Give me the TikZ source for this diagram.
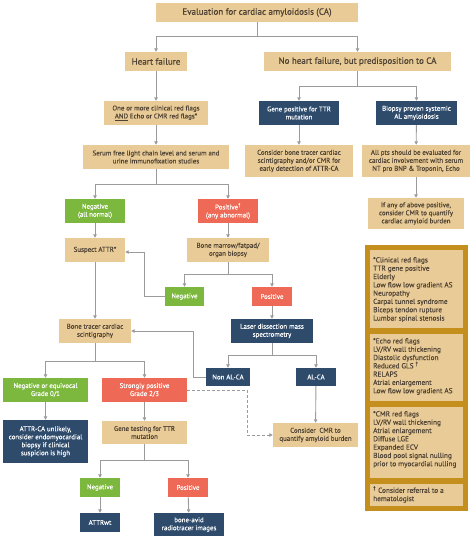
\documentclass[tikz,border=0pt]{standalone}
\usepackage{fontspec}
\setmainfont{PT Sans}[FakeBold=0.15]
\newfontfamily\headfont{PT Sans}[FakeBold=0.7]
\usetikzlibrary{arrows.meta}
\definecolor{tan}{HTML}{E8CB96}
\definecolor{tantext}{HTML}{4F4234}
\definecolor{navy}{HTML}{2E4B6C}
\definecolor{leaf}{HTML}{7CB83E}
\definecolor{coral}{HTML}{EE6A56}
\definecolor{gold}{HTML}{C48F1C}
\definecolor{wire}{HTML}{9B9B9B}
\tikzset{
  boxbase/.style={inner sep=1pt, align=center, font=\fontsize{6.9}{8}\selectfont},
  tanbox/.style={boxbase, fill=tan, text=tantext},
  bluebox/.style={boxbase, fill=navy, text=white},
  greenbox/.style={boxbase, fill=leaf, text=white},
  redbox/.style={boxbase, fill=coral, text=white},
  headbox/.style={tanbox, font=\headfont\fontsize{9}{10}\selectfont},
  sz/.style 2 args={minimum width=#1, minimum height=#2},
  arr/.style={draw=wire, line width=0.9pt, -{Triangle[width=3.4pt,length=3.4pt]}},
  wirel/.style={draw=wire, line width=0.9pt},
  paneltext/.style={anchor=north west, inner sep=0pt, align=left, text=tantext, font=\fontsize{7.3}{8.3}\selectfont}
}
\begin{document}
\begin{tikzpicture}[x=1pt,y=-1pt]
\useasboundingbox (0,0) rectangle (474,539);
% top
\node[headbox, sz={202}{19}] (title) at (257,12.5) {Evaluation for cardiac amyloidosis (CA)};
\node[headbox, sz={62}{19}] (hf) at (156,61.5) {Heart failure};
\node[headbox, sz={187}{19}] (nohf) at (357.5,61.5) {No heart failure, but predisposition to CA};
\node[tanbox, sz={104}{24}] (redflags) at (156,113) {One or more clinical red flags\\\underline{AND} Echo or CMR red flags*};
\node[bluebox, sz={80}{24}] (gene) at (299,113) {Gene positive for TTR\\mutation};
\node[bluebox, sz={81}{24}] (biopsy) at (416.5,113) {Biopsy proven systemic\\AL amyloidosis};
\node[tanbox, sz={146}{24}] (serum) at (156,157) {Serum free light chain level and serum and\\urine immunofixation studies};
\node[tanbox, sz={108}{32}] (bonetr1) at (299,161) {Consider bone tracer cardiac\\scintigraphy and/or CMR for\\early detection of ATTR-CA};
\node[tanbox, sz={108}{32}] (allpts) at (416,161) {All pts should be evaluated for\\cardiac involvement with serum\\NT pro BNP \& Troponin, Echo};
\node[tanbox, sz={96}{31}] (ifany) at (416,213.5) {If any of above positive,\\consider CMR to quantify\\cardiac amyloid burden};
% middle
\node[greenbox, sz={60}{24}] (neg1) at (95,211) {Negative\\(all normal)};
\node[redbox, sz={60}{24}] (pos1) at (228,211) {Positive\textsuperscript{†}\\(any abnormal)};
\node[tanbox, sz={60}{24}] (sattr) at (95,250) {Suspect ATTR*};
\node[tanbox, sz={82}{24}] (bmb) at (228,250) {Bone marrow/fatpad/\\organ biopsy};
\node[greenbox, sz={39}{19}] (neg2) at (184.5,296.5) {Negative};
\node[redbox, sz={40}{19}] (pos2) at (272,296.5) {Positive};
\node[bluebox, sz={82}{24}] (laser) at (272,331) {Laser dissection mass\\spectrometry};
\node[bluebox, sz={44}{18}] (nonal) at (228,377) {Non AL-CA};
\node[bluebox, sz={40}{18}] (alca) at (316,377) {AL-CA};
\node[tanbox, sz={72}{24}] (bonetr2) at (95,331) {Bone tracer cardiac\\scintigraphy};
\node[greenbox, sz={85}{24}] (negeq) at (45.5,390) {Negative or equivocal\\Grade 0/1};
\node[redbox, sz={85}{24}] (strong) at (144.5,390) {Strongly positive\\Grade 2/3};
\node[bluebox, sz={85}{43}] (attrca) at (45.5,441.5) {ATTR-CA unlikely,\\consider endomyocardial\\biopsy if clinical\\suspicion is high};
\node[tanbox, sz={85}{23}] (genetest) at (144.5,432.5) {Gene testing for TTR\\mutation};
\node[tanbox, sz={85}{24}] (cmr) at (315.5,435) {Consider\ \ CMR to\\quantify amyloid burden};
\node[greenbox, sz={40}{19}] (neg3) at (100,487.5) {Negative};
\node[redbox, sz={40}{19}] (pos3) at (188,487.5) {Positive};
\node[bluebox, sz={40}{19}] (attrwt) at (100,522.5) {ATTRwt};
\node[bluebox, sz={70}{23}] (boneavid) at (189,524.5) {bone-avid\\radiotracer images};
% junction coordinates
\coordinate (j1) at (257,36);
\coordinate (j2) at (357.5,86);
\coordinate (j3) at (156,184);
\coordinate (j4) at (228,274);
\coordinate (j5) at (272,355);
\coordinate (j6) at (95,361);
\coordinate (j7) at (144.5,460);
% connectors
\draw[wirel] (title) -- (j1);
\draw[arr] (j1) -| (hf);
\draw[arr] (j1) -| (nohf);
\draw[arr] (hf) -- (redflags);
\draw[arr] (redflags) -- (serum);
\draw[wirel] (nohf) -- (j2);
\draw[arr] (j2) -| (gene);
\draw[arr] (j2) -| (biopsy);
\draw[arr] (gene) -- (bonetr1);
\draw[arr] (biopsy) -- (allpts);
\draw[arr] (allpts) -- (ifany);
\draw[wirel] (serum) -- (j3);
\draw[arr] (j3) -| (neg1);
\draw[arr] (j3) -| (pos1);
\draw[arr] (neg1) -- (sattr);
\draw[arr] (pos1) -- (bmb);
\draw[wirel] (bmb) -- (j4);
\draw[arr] (j4) -| (neg2);
\draw[arr] (j4) -| (pos2);
\draw[arr] (neg2.west) -- ++(-20,0) |- ([yshift=-2pt]sattr.east);
\draw[arr] (pos2) -- (laser);
\draw[wirel] (laser) -- (j5);
\draw[arr] (j5) -| (nonal);
\draw[arr] (j5) -| (alca);
\draw[arr] (nonal.west) -- ++(-12,0) |- (bonetr2.east);
\draw[arr] (sattr) -- (bonetr2);
\draw[wirel] (bonetr2) -- (j6);
\draw[arr] (j6) -| (negeq);
\draw[arr] (j6) -| (strong);
\draw[arr] (negeq) -- (attrca);
\draw[arr] (strong) -- (genetest);
\draw[wirel] (genetest) -- (j7);
\draw[arr] (j7) -| (neg3);
\draw[arr] (j7) -| (pos3);
\draw[arr] (neg3) -- (attrwt);
\draw[arr] (pos3) -- (boneavid);
\draw[arr] (alca) -- (cmr);
\draw[arr, dash pattern=on 3pt off 2pt] (strong.east) -- ++(60,0) |- (cmr.west);
% legend panel
\fill[gold] (365,245) rectangle (468,511);
\fill[tan] (370,250) rectangle (463,328);
\fill[tan] (370,334) rectangle (463,401);
\fill[tan] (370,407) rectangle (463,478);
\fill[tan] (370,484) rectangle (463,506);
\node[paneltext] (p1) at (373,257) {*Clinical red flags\\TTR gene positive\\Elderly\\Low flow low gradient AS\\Neuropathy\\Carpal tunnel syndrome\\Biceps tendon rupture\\Lumbar spinal stenosis};
\node[paneltext] (p2) at (373,338) {*Echo red flags\\LV/RV wall thickening\\Diastolic dysfunction\\Reduced GLS \textsuperscript{†}\\RELAPS\\Atrial enlargement\\Low flow low gradient AS};
\node[paneltext] (p3) at (373,411) {*CMR red flags\\LV/RV wall thickening\\Atrial enlargement\\Diffuse LGE\\Expanded ECV\\Blood pool signal nulling\\prior to myocardial nulling};
\node[paneltext] (p4) at (373,486) {\textsuperscript{†} Consider referral to a\\hematologist};
\end{tikzpicture}
\end{document}
